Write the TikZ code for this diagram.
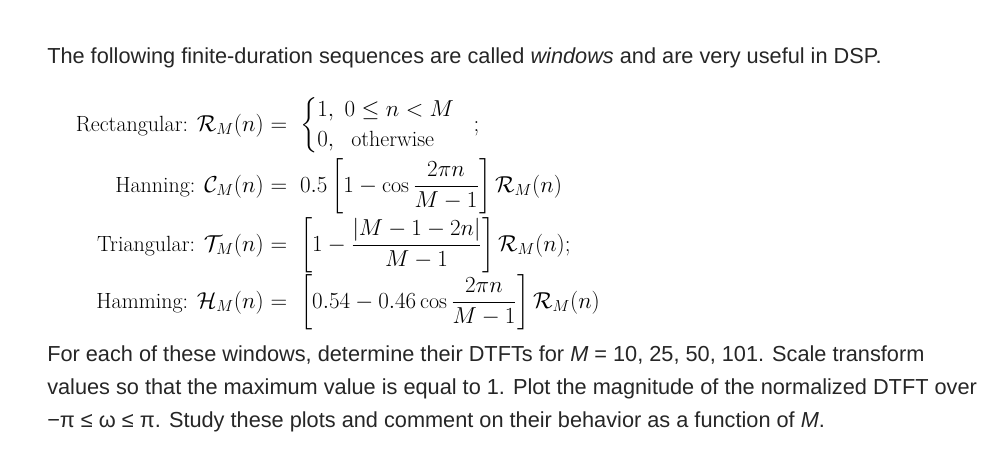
\documentclass[tikz,border=0pt]{standalone}
\usepackage{amsmath}
\usepackage{fontspec}
\newfontfamily\arial{Liberation Sans}
\begin{document}
\begin{tikzpicture}[x=0.75pt,y=-0.75pt,
  para/.style={anchor=base west,inner sep=0pt,font=\arial\fontsize{16.3}{19}\selectfont,text=black!85},
  lab/.style={anchor=base east,inner sep=0pt,font=\fontsize{16.5}{19}\selectfont},
  rhs/.style={anchor=base west,inner sep=0pt,font=\fontsize{16.5}{19}\selectfont}]
\useasboundingbox[fill=white] (0,0) rectangle (1005,471);
\node[para] (t1) at (47,63) {The following finite-duration sequences are called \textit{windows} and are very useful in DSP.};
\node[lab] (l1) at (264,131) {Rectangular: $\mathcal{R}_M(n)$};
\node[rhs] (r1) at (264,131) {$\;=\;\begin{cases}1,\ 0\le n<M\\ 0,\ \ \text{otherwise}\end{cases}\!\!;$};
\node[lab] (l2) at (264,192) {Hanning: $\mathcal{C}_M(n)$};
\node[rhs] (r2) at (264,192) {$\;=\;0.5\left[1-\cos\dfrac{2\pi n}{M-1}\right]\mathcal{R}_M(n)$};
\node[lab] (l3) at (264,251) {Triangular: $\mathcal{T}_M(n)$};
\node[rhs] (r3) at (264,251) {$\;=\;\left[1-\dfrac{|M-1-2n|}{M-1}\right]\mathcal{R}_M(n);$};
\node[lab] (l4) at (264,308) {Hamming: $\mathcal{H}_M(n)$};
\node[rhs] (r4) at (264,308) {$\;=\;\left[0.54-0.46\cos\dfrac{2\pi n}{M-1}\right]\mathcal{R}_M(n)$};
\node[para] (t2) at (47,361) {For each of these windows, determine their DTFTs for \textit{M} = 10, 25, 50, 101. Scale transform};
\node[para] (t3) at (47,394) {values so that the maximum value is equal to 1. Plot the magnitude of the normalized DTFT over};
\node[para] (t4) at (47,427) {\textminus π ≤ ω ≤ π. Study these plots and comment on their behavior as a function of \textit{M}.};
\end{tikzpicture}
\end{document}
